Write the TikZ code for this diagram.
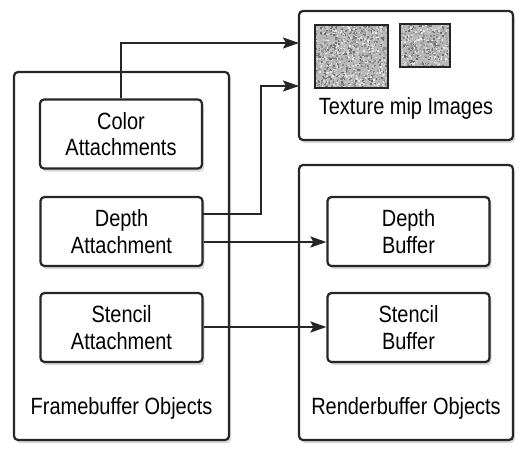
\documentclass[tikz,border=0pt]{standalone}
\usepackage{fontspec}
\setmainfont{Liberation Sans}[FakeStretch=0.85]
\usetikzlibrary{shadows,arrows.meta}
\begin{document}
\begin{tikzpicture}[x=1pt,y=-1pt,
  box/.style={draw=black!85,line width=2.2pt,rounded corners=4pt,fill=white,
    drop shadow={shadow xshift=2pt,shadow yshift=-3pt,opacity=0.25,fill=black!60}},
  inner/.style={box,minimum width=162pt,minimum height=69pt,align=center,
    font=\fontsize{23.5}{26.5}\selectfont,inner sep=0pt},
  lbl/.style={font=\fontsize{23.5}{26}\selectfont,inner sep=0pt},
  img/.style={draw=black!85,line width=1.8pt,inner sep=0pt},
  conn/.style={draw=black!85,line width=2.2pt},
  arr/.style={conn,-{Stealth[length=16pt,width=11pt,inset=3pt]}}]
\fill[white] (0,0) rectangle (527,458);
\useasboundingbox (0,0) rectangle (527,458);
% containers
\node[box,minimum width=215pt,minimum height=368pt] (fbo) at (121.5,256) {};
\node[box,minimum width=214pt,minimum height=129pt] (tex) at (406,75.5) {};
\node[box,minimum width=214pt,minimum height=275pt] (rbo) at (406,302.5) {};
% labels
\node[lbl] (fbolbl) at (121.5,408) {Framebuffer Objects};
\node[lbl] (rbolbl) at (406,408) {Renderbuffer Objects};
\node[lbl] (texlbl) at (406,108) {Texture mip Images};
% inner boxes
\node[inner] (color) at (121,134) {Color\\Attachments};
\node[inner] (depth) at (121.5,231.5) {Depth\\Attachment};
\node[inner] (stencil) at (121.5,327.5) {Stencil\\Attachment};
\node[inner] (dbuf) at (408.5,231.5) {Depth\\Buffer};
\node[inner] (sbuf) at (408.5,327.5) {Stencil\\Buffer};
% noise images
\pgfmathsetseed{7}
\begin{scope}
\clip (315,25) rectangle (388,88);
\fill[black!28] (315,25) rectangle (388,88);
\foreach \i in {1,...,1300}{
  \pgfmathsetmacro{\xx}{315+73*rnd}
  \pgfmathsetmacro{\yy}{25+63*rnd}
  \pgfmathsetmacro{\gg}{int(8+52*rnd)}
  \fill[black!\gg] (\xx,\yy) rectangle ++(1.6,1.6);
}
\end{scope}
\begin{scope}
\clip (400,24) rectangle (450,67);
\fill[black!28] (400,24) rectangle (450,67);
\foreach \i in {1,...,600}{
  \pgfmathsetmacro{\xx}{400+50*rnd}
  \pgfmathsetmacro{\yy}{24+43*rnd}
  \pgfmathsetmacro{\gg}{int(8+52*rnd)}
  \fill[black!\gg] (\xx,\yy) rectangle ++(1.6,1.6);
}
\end{scope}
\node[img,minimum width=73pt,minimum height=63pt] (im1) at (351.5,56.5) {};
\node[img,minimum width=50pt,minimum height=43pt] (im2) at (425,45.5) {};
% connectors
\coordinate (t1) at (299,43);
\coordinate (t2) at (299,86);
\coordinate (d1) at (203.3,214);
\coordinate (d2) at (261,214);
\draw[arr] (color.north) |- (t1);
\draw[arr] (d1) -- (d2) |- (t2);
\draw[arr] (depth.east |- 0,242) -- (dbuf.west |- 0,242);
\draw[arr] (stencil.east |- 0,327) -- (sbuf.west |- 0,327);
\end{tikzpicture}
\end{document}
